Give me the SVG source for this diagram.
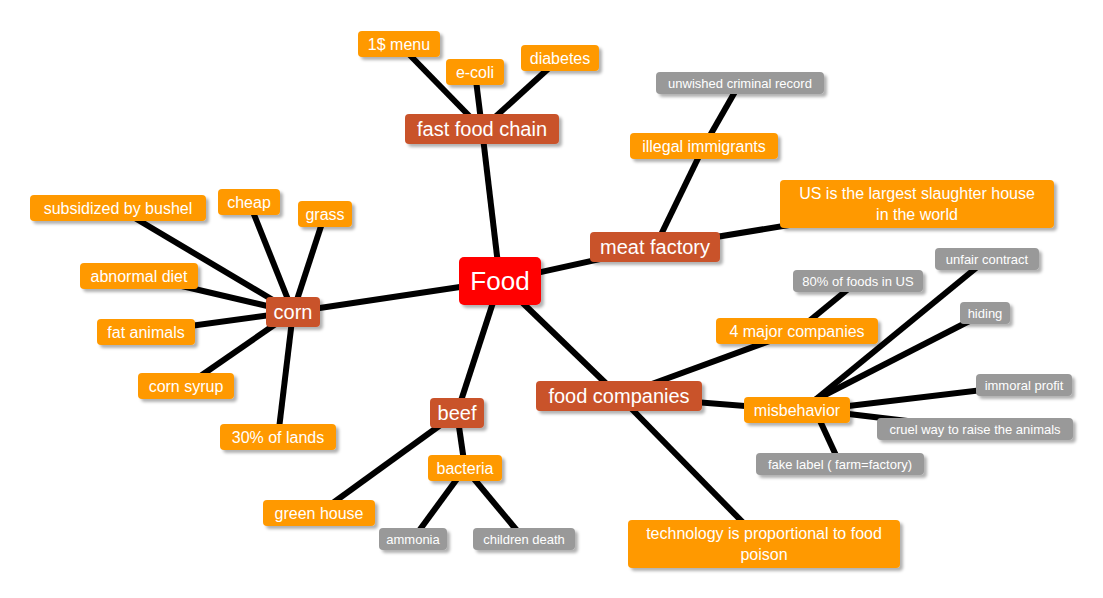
<svg xmlns="http://www.w3.org/2000/svg" width="1103" height="598" viewBox="0 0 1103 598">
<defs>
<filter id="sh" x="-10%" y="-10%" width="130%" height="140%"><feDropShadow dx="3" dy="3" stdDeviation="1.5" flood-color="#000" flood-opacity="0.3"/></filter>
</defs>
<style>
rect{filter:url(#sh)}
.r{fill:#ff0000}.b{fill:#c9532c}.o{fill:#ff9900}.g{fill:#999999}
text{font-family:"Liberation Sans",Arial,sans-serif;fill:#fff;text-anchor:middle;dominant-baseline:central}
.t0{font-size:26px}.t1{font-size:20px}.t2{font-size:16px}.t3{font-size:13px}
#edges line{stroke:#000;stroke-width:6}
</style>
<rect width="1103" height="598" fill="#fff" style="filter:none"/>
<g id="edges">
<line x1="500" y1="281" x2="482" y2="129"/><line x1="500" y1="281" x2="655" y2="247"/>
<line x1="500" y1="281" x2="293" y2="312"/><line x1="500" y1="281" x2="457" y2="413"/>
<line x1="500" y1="281" x2="619" y2="396"/>
<line x1="482" y1="129" x2="399" y2="44"/><line x1="482" y1="129" x2="475" y2="72"/><line x1="482" y1="129" x2="560" y2="58"/>
<line x1="655" y1="247" x2="704" y2="146"/><line x1="655" y1="247" x2="917" y2="204"/><line x1="704" y1="146" x2="740" y2="83"/>
<line x1="293" y1="312" x2="118" y2="208"/><line x1="293" y1="312" x2="249" y2="202"/><line x1="293" y1="312" x2="325" y2="214"/>
<line x1="293" y1="312" x2="139" y2="276"/><line x1="293" y1="312" x2="146" y2="332"/><line x1="293" y1="312" x2="186" y2="386"/>
<line x1="293" y1="312" x2="278" y2="437"/>
<line x1="457" y1="413" x2="465" y2="468"/><line x1="457" y1="413" x2="319" y2="513"/>
<line x1="465" y1="468" x2="413" y2="539"/><line x1="465" y1="468" x2="524" y2="539"/>
<line x1="619" y1="396" x2="797" y2="331"/><line x1="619" y1="396" x2="797" y2="410"/><line x1="619" y1="396" x2="764" y2="544"/>
<line x1="797" y1="331" x2="858" y2="281"/>
<line x1="815" y1="400" x2="987" y2="259"/><line x1="815" y1="400" x2="985" y2="313"/><line x1="815" y1="410" x2="1024" y2="385"/>
<line x1="815" y1="410" x2="975" y2="429"/><line x1="815" y1="410" x2="840" y2="464"/>
</g>
<g id="n-food"><rect class="r" x="459" y="257" width="82" height="48" rx="5"/><text class="t0" x="500" y="281">Food</text></g>
<g id="n-ffc"><rect class="b" x="405" y="114" width="154" height="30" rx="4"/><text class="t1" x="482" y="129">fast food chain</text></g>
<g id="n-meat"><rect class="b" x="590" y="232" width="130" height="30" rx="4"/><text class="t1" x="655" y="247">meat factory</text></g>
<g id="n-corn"><rect class="b" x="266" y="297" width="54" height="30" rx="4"/><text class="t1" x="293" y="312">corn</text></g>
<g id="n-beef"><rect class="b" x="430" y="398" width="54" height="30" rx="4"/><text class="t1" x="457" y="413">beef</text></g>
<g id="n-fc"><rect class="b" x="536" y="381" width="166" height="30" rx="4"/><text class="t1" x="619" y="396">food companies</text></g>
<g id="n-menu"><rect class="o" x="358" y="31" width="82" height="26" rx="4"/><text class="t2" x="399" y="44">1$ menu</text></g>
<g id="n-ecoli"><rect class="o" x="446" y="59" width="58" height="26" rx="4"/><text class="t2" x="475" y="72">e-coli</text></g>
<g id="n-diab"><rect class="o" x="521" y="45" width="78" height="26" rx="4"/><text class="t2" x="560" y="58">diabetes</text></g>
<g id="n-illeg"><rect class="o" x="630" y="133" width="148" height="26" rx="4"/><text class="t2" x="704" y="146">illegal immigrants</text></g>
<g id="n-unw"><rect class="g" x="656" y="72" width="168" height="22" rx="4"/><text class="t3" x="740" y="83">unwished criminal record</text></g>
<g id="n-us"><rect class="o" x="780" y="180" width="274" height="48" rx="4"/><text class="t2" x="917" y="193">US is the largest slaughter house</text><text class="t2" x="917" y="214">in the world</text></g>
<g id="n-sub"><rect class="o" x="30" y="195" width="176" height="26" rx="4"/><text class="t2" x="118" y="208">subsidized by bushel</text></g>
<g id="n-cheap"><rect class="o" x="218" y="189" width="62" height="26" rx="4"/><text class="t2" x="249" y="202">cheap</text></g>
<g id="n-grass"><rect class="o" x="298" y="201" width="54" height="26" rx="4"/><text class="t2" x="325" y="214">grass</text></g>
<g id="n-abn"><rect class="o" x="80" y="263" width="118" height="26" rx="4"/><text class="t2" x="139" y="276">abnormal diet</text></g>
<g id="n-fat"><rect class="o" x="97" y="319" width="98" height="26" rx="4"/><text class="t2" x="146" y="332">fat animals</text></g>
<g id="n-syr"><rect class="o" x="138" y="373" width="96" height="26" rx="4"/><text class="t2" x="186" y="386">corn syrup</text></g>
<g id="n-lands"><rect class="o" x="220" y="424" width="116" height="26" rx="4"/><text class="t2" x="278" y="437">30% of lands</text></g>
<g id="n-bact"><rect class="o" x="428" y="455" width="74" height="26" rx="4"/><text class="t2" x="465" y="468">bacteria</text></g>
<g id="n-green"><rect class="o" x="263" y="500" width="112" height="26" rx="4"/><text class="t2" x="319" y="513">green house</text></g>
<g id="n-amm"><rect class="g" x="379" y="528" width="68" height="22" rx="4"/><text class="t3" x="413" y="539">ammonia</text></g>
<g id="n-child"><rect class="g" x="473" y="528" width="102" height="22" rx="4"/><text class="t3" x="524" y="539">children death</text></g>
<g id="n-four"><rect class="o" x="716" y="318" width="162" height="26" rx="4"/><text class="t2" x="797" y="331">4 major companies</text></g>
<g id="n-80"><rect class="g" x="793" y="270" width="130" height="22" rx="4"/><text class="t3" x="858" y="281">80% of foods in US</text></g>
<g id="n-mis"><rect class="o" x="744" y="397" width="106" height="26" rx="4"/><text class="t2" x="797" y="410">misbehavior</text></g>
<g id="n-unf"><rect class="g" x="935" y="248" width="104" height="22" rx="4"/><text class="t3" x="987" y="259">unfair contract</text></g>
<g id="n-hid"><rect class="g" x="960" y="302" width="50" height="22" rx="4"/><text class="t3" x="985" y="313">hiding</text></g>
<g id="n-imm"><rect class="g" x="976" y="374" width="96" height="22" rx="4"/><text class="t3" x="1024" y="385">immoral profit</text></g>
<g id="n-cruel"><rect class="g" x="877" y="418" width="196" height="22" rx="4"/><text class="t3" x="975" y="429">cruel way to raise the animals</text></g>
<g id="n-fake"><rect class="g" x="756" y="453" width="168" height="22" rx="4"/><text class="t3" x="840" y="464">fake label ( farm=factory)</text></g>
<g id="n-tech"><rect class="o" x="628" y="520" width="272" height="48" rx="4"/><text class="t2" x="764" y="533">technology is proportional to food</text><text class="t2" x="764" y="554">poison</text></g>
</svg>
